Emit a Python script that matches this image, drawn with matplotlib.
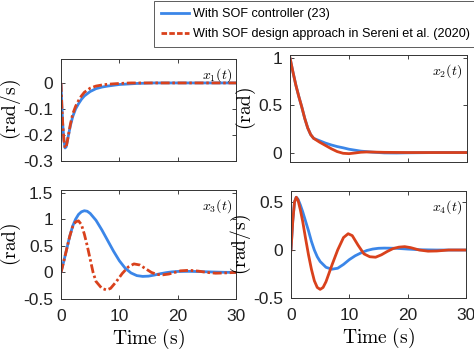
import matplotlib
matplotlib.use("Agg")
import matplotlib.pyplot as plt
from matplotlib.lines import Line2D

plt.rcParams['font.family'] = ['Liberation Sans', 'DejaVu Sans']
plt.rcParams['mathtext.fontset'] = 'cm'

BLUE = '#3b86e8'
RED = '#d9411c'

# x1(t) (rad/s)
t1_b = [0, 0.15, 0.3, 0.5, 0.7, 0.9, 1.2, 1.6, 2, 2.5, 3, 3.5, 4, 5, 6, 7, 8, 10, 13, 16, 20, 25, 30]
x1_b = [0, -0.09, -0.16, -0.22, -0.25, -0.245, -0.21, -0.165, -0.13, -0.1, -0.08, -0.063, -0.05,
        -0.033, -0.022, -0.016, -0.012, -0.006, -0.002, 0, 0, 0, 0]
t1_r = [0, 0.15, 0.3, 0.5, 0.7, 0.9, 1.2, 1.6, 2, 2.5, 3, 3.5, 4, 5, 6, 7, 8, 10, 12, 16, 20, 25, 30]
x1_r = [0, -0.09, -0.16, -0.22, -0.25, -0.245, -0.21, -0.16, -0.12, -0.09, -0.068, -0.05, -0.036,
        -0.02, -0.012, -0.008, -0.005, -0.002, 0, 0, 0, 0, 0]

# x2(t) (rad)
t2_b = [0, 0.5, 1, 1.5, 2, 2.5, 3, 3.5, 4, 5, 6, 7, 8, 9, 10, 11, 12, 14, 16, 18, 20, 25, 30]
x2_b = [1, 0.85, 0.71, 0.59, 0.48, 0.36, 0.26, 0.19, 0.15, 0.125, 0.1, 0.08, 0.063, 0.05, 0.035,
        0.025, 0.015, 0.004, -0.004, -0.005, -0.003, 0, 0]
t2_r = [0, 0.5, 1, 1.5, 2, 2.5, 3, 3.5, 4, 5, 6, 7, 8, 9, 10, 11, 12, 13, 14, 16, 20, 25, 30]
x2_r = [1, 0.85, 0.71, 0.59, 0.48, 0.36, 0.26, 0.19, 0.15, 0.11, 0.075, 0.04, 0.01, -0.008, -0.012,
        -0.005, 0.003, 0.006, 0.005, 0.002, 0, 0, 0]

# x3(t) (rad)
t3_b = [0, 0.5, 1, 1.5, 2, 2.5, 3, 3.5, 4, 4.5, 5, 6, 7, 8, 9, 10, 11, 12, 13, 14, 15, 16, 17, 18,
        19, 20, 22, 24, 26, 28, 30]
x3_b = [0, 0.22, 0.45, 0.68, 0.87, 1.0, 1.09, 1.14, 1.16, 1.15, 1.11, 0.98, 0.8, 0.6, 0.4, 0.22,
        0.08, -0.01, -0.06, -0.075, -0.07, -0.05, -0.025, -0.005, 0.01, 0.018, 0.02, 0.015, 0.008,
        0.002, 0]
t3_r = [0, 0.5, 1, 1.5, 2, 2.5, 3, 3.5, 4, 4.5, 5, 5.5, 6, 7, 7.8, 8.5, 9.5, 10.5, 11.5, 12.5, 13.5,
        14.5, 15.5, 16.5, 17.5, 18.5, 19.5, 20.5, 22, 23.5, 25, 26.5, 28, 30]
x3_r = [0, 0.22, 0.45, 0.68, 0.86, 0.95, 0.97, 0.9, 0.72, 0.5, 0.25, 0.0, -0.17, -0.3, -0.33, -0.3,
        -0.17, -0.02, 0.1, 0.16, 0.14, 0.07, 0.0, -0.04, -0.045, -0.03, 0.0, 0.03, 0.04, 0.025, 0.0,
        -0.015, -0.01, 0]

# x4(t) (rad/s)
t4_b = [0, 0.3, 0.6, 0.9, 1.2, 1.6, 2, 2.5, 3, 3.5, 4, 4.5, 5, 6, 7, 8, 9, 10, 11, 12, 13, 14, 15,
        16, 18, 20, 22, 25, 30]
x4_b = [0, 0.3, 0.5, 0.55, 0.53, 0.47, 0.4, 0.3, 0.2, 0.09, 0.0, -0.07, -0.12, -0.18, -0.2, -0.19,
        -0.15, -0.1, -0.06, -0.03, -0.005, 0.01, 0.018, 0.02, 0.018, 0.01, 0.003, 0, 0]
t4_r = [0, 0.3, 0.6, 0.9, 1.2, 1.6, 2, 2.5, 3, 3.5, 4, 4.5, 5, 5.5, 6, 7, 8, 9, 9.8, 10.5, 11.5,
        12.5, 13.5, 14.5, 15.5, 16.5, 17.5, 18.5, 19.5, 20.5, 22, 23.5, 25, 27, 30]
x4_r = [0, 0.3, 0.5, 0.55, 0.52, 0.42, 0.3, 0.12, -0.05, -0.2, -0.32, -0.39, -0.41, -0.39, -0.33,
        -0.16, 0.0, 0.13, 0.17, 0.15, 0.05, -0.04, -0.07, -0.075, -0.05, -0.015, 0.015, 0.03, 0.035,
        0.025, 0.0, -0.012, -0.01, 0, 0]

W, H = 474, 350
fig = plt.figure(figsize=(W / 100, H / 100), dpi=100)


def px_axes(left, top, right, bottom):
    return fig.add_axes([left / W, 1 - bottom / H, (right - left) / W, (bottom - top) / H])


dashdot = (0, (3.2, 1.0, 0.9, 1.0))

panels = [
    # box (px), data, red style, ylim, yticks, yticklabels, ylabel, name
    ((61, 59, 236, 161), (t1_b, x1_b, t1_r, x1_r), dashdot, (-0.3, 0.092),
     [-0.3, -0.2, -0.1, 0], ['-0.3', '-0.2', '-0.1', '0'], r'$(\mathrm{rad/s})$', r'$x_1(t)$'),
    ((290, 55, 467, 162), (t2_b, x2_b, t2_r, x2_r), '-', (-0.1, 1.03),
     [0, 0.5, 1], ['0', '0.5', '1'], r'$(\mathrm{rad})$', r'$x_2(t)$'),
    ((61, 190, 236, 299), (t3_b, x3_b, t3_r, x3_r), dashdot, (-0.5, 1.55),
     [-0.5, 0, 0.5, 1, 1.5], ['-0.5', '0', '0.5', '1', '1.5'], r'$(\mathrm{rad})$', r'$x_3(t)$'),
    ((291, 191, 466, 298), (t4_b, x4_b, t4_r, x4_r), '-', (-0.5, 0.615),
     [-0.5, 0, 0.5], ['-0.5', '0', '0.5'], r'$(\mathrm{rad/s})$', r'$x_4(t)$'),
]

for k, (box, (tb, xb, tr, xr), rstyle, ylim, yt, ytl, ylab, name) in enumerate(panels):
    ax = px_axes(*box)
    ax.plot(tb, xb, color=BLUE, lw=2.0, solid_capstyle='butt')
    ax.plot(tr, xr, color=RED, lw=2.0, ls=rstyle)
    ax.set_xlim(0, 30)
    ax.set_ylim(*ylim)
    ax.set_xticks([0, 10, 20, 30])
    ax.set_yticks(yt)
    ax.set_yticklabels(ytl)
    if k >= 2:
        ax.set_xticklabels(['0', '10', '20', '30'])
        ax.set_xlabel(r'$\mathrm{Time\ (s)}$', fontsize=14, labelpad=2)
    else:
        ax.set_xticklabels([])
    ax.set_ylabel(ylab, fontsize=14, labelpad=0)
    ax.tick_params(direction='in', top=True, right=True, length=3, width=0.6,
                   labelsize=12.5, colors='#222222', pad=5.5)
    ax.tick_params(axis='x', pad=7)
    for s in ax.spines.values():
        s.set_linewidth(0.7)
        s.set_color('#333333')
    ax.text(0.975, 0.93, name, transform=ax.transAxes, ha='right', va='top', fontsize=10)

handles = [Line2D([], [], color=BLUE, lw=2.0),
           Line2D([], [], color=RED, lw=2.0, ls=(0, (2.0, 0.8)))]
labels = ['With SOF controller (23)', 'With SOF design approach in Sereni et al. (2020)']
leg = fig.legend(handles, labels, loc='lower left', bbox_to_anchor=(154 / W, 1 - 47 / H),
                 fontsize=9.1, frameon=True, fancybox=False, edgecolor='#333333',
                 handlelength=2.2, handletextpad=0.3, labelspacing=0.62, borderpad=0.55,
                 borderaxespad=0)
leg.get_frame().set_linewidth(0.7)

fig.savefig('out.png', dpi=100)
